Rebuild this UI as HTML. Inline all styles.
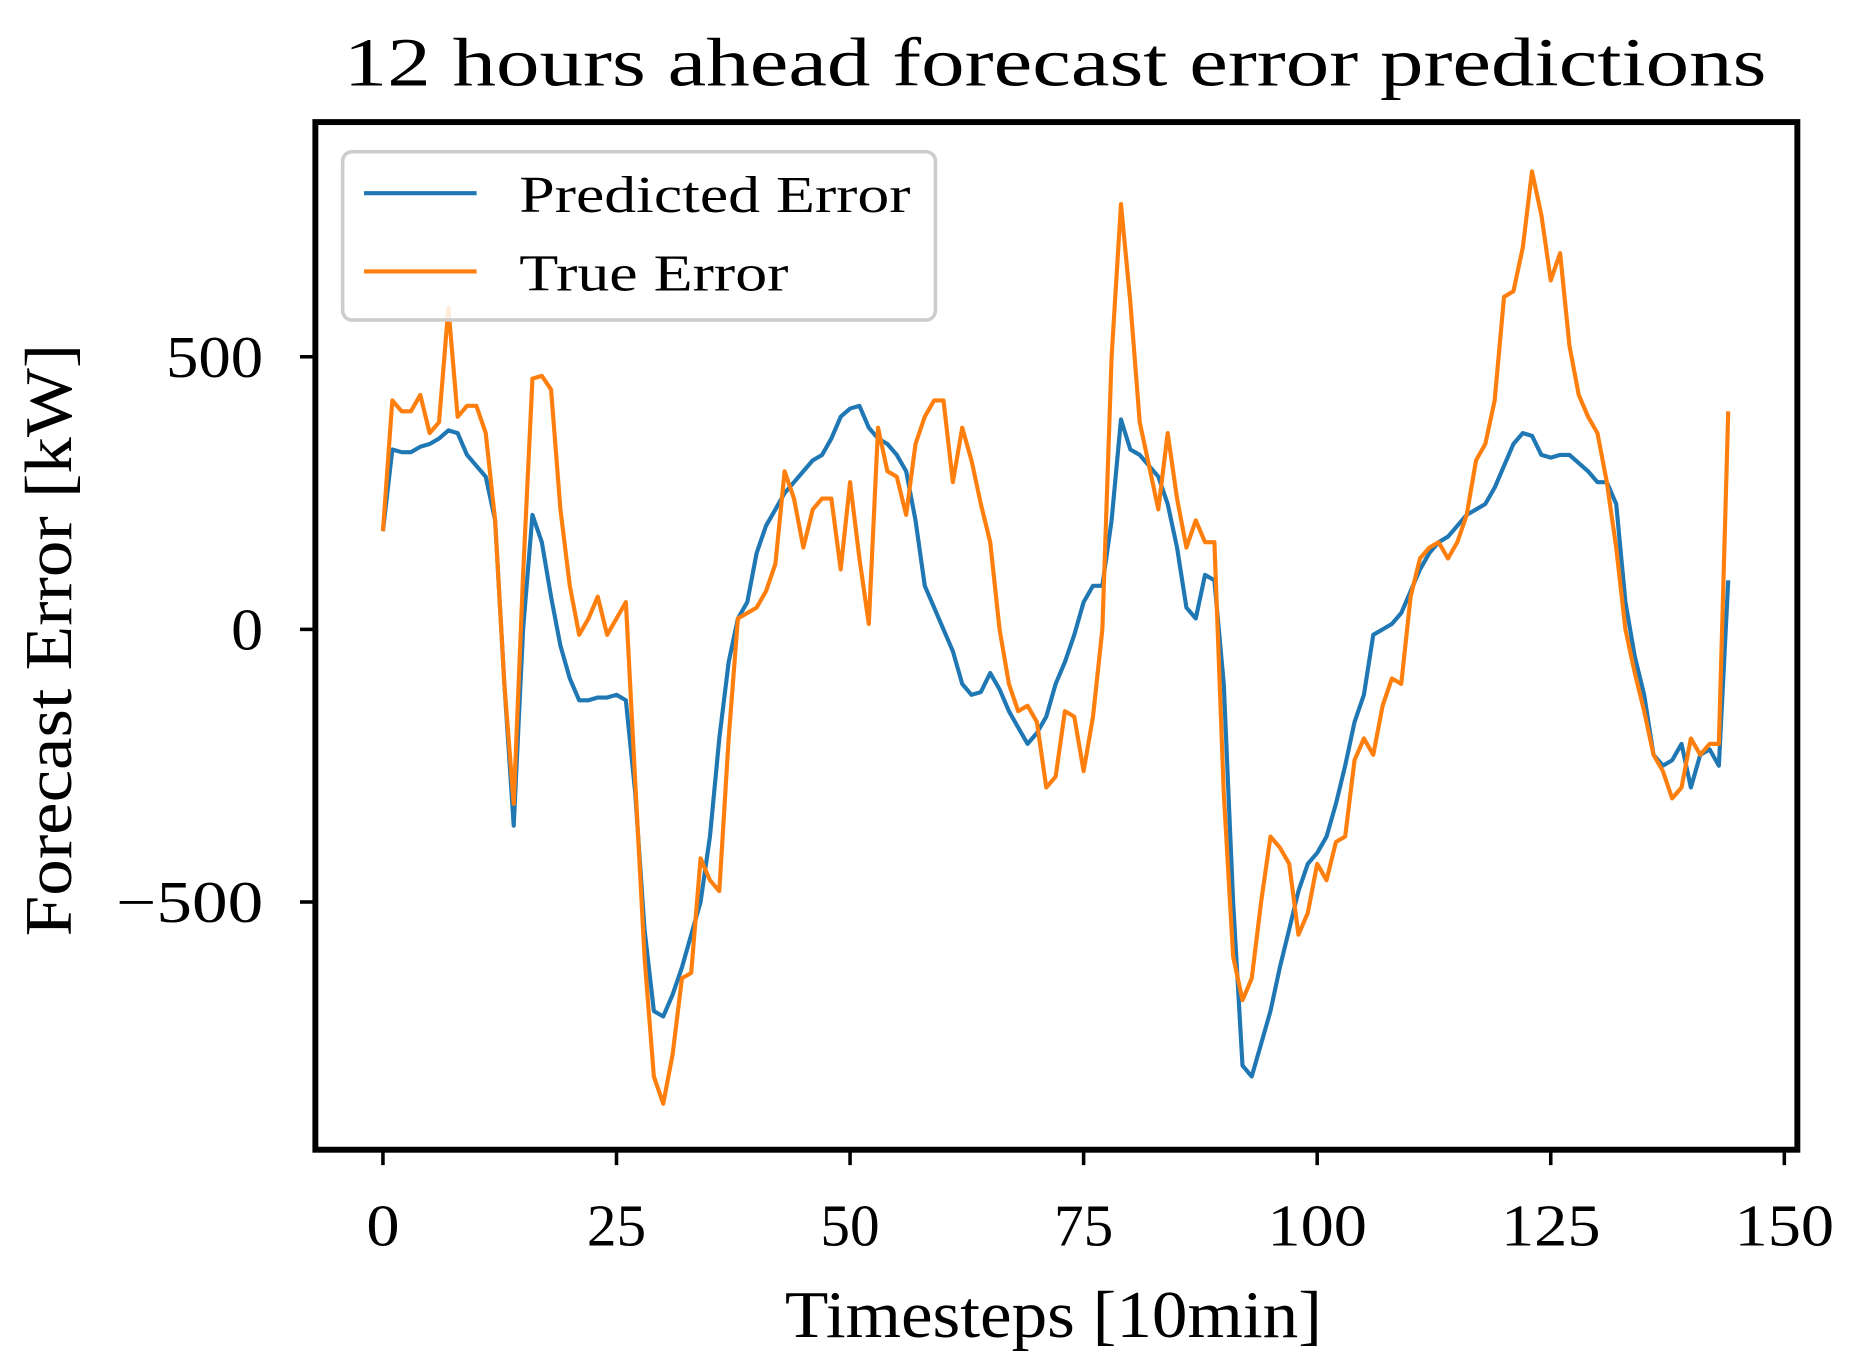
<!DOCTYPE html>
<html><head><meta charset="utf-8"><style>
html,body{margin:0;padding:0;background:#fff;}
svg{display:block;}
text{font-family:"Liberation Serif",serif;fill:#000;}
</style></head><body>
<svg id="s" width="1859" height="1369" viewBox="0 0 1568 1155" preserveAspectRatio="none" xmlns="http://www.w3.org/2000/svg">
<rect x="0" y="0" width="1568" height="1155" fill="#fff"/>
<text x="290" y="72" font-size="58" textLength="1200" lengthAdjust="spacingAndGlyphs">12 hours ahead forecast error predictions</text>
<g id="lines"></g>
<rect x="266" y="103" width="1250" height="867" fill="none" stroke="#000" stroke-width="5"/>
<g stroke="#000" stroke-width="3">
<line x1="323" y1="970" x2="323" y2="983"/><line x1="520" y1="970" x2="520" y2="983"/><line x1="717" y1="970" x2="717" y2="983"/><line x1="914" y1="970" x2="914" y2="983"/><line x1="1111" y1="970" x2="1111" y2="983"/><line x1="1308" y1="970" x2="1308" y2="983"/><line x1="1505" y1="970" x2="1505" y2="983"/>
<line x1="253" y1="301" x2="266" y2="301"/><line x1="253" y1="531" x2="266" y2="531"/><line x1="253" y1="761" x2="266" y2="761"/>
</g>
<g font-size="50">
<text x="309" y="1051" textLength="28" lengthAdjust="spacingAndGlyphs">0</text>
<text x="495" y="1051" textLength="50" lengthAdjust="spacingAndGlyphs">25</text>
<text x="692" y="1051" textLength="50" lengthAdjust="spacingAndGlyphs">50</text>
<text x="889" y="1051" textLength="50" lengthAdjust="spacingAndGlyphs">75</text>
<text x="1069" y="1051" textLength="84" lengthAdjust="spacingAndGlyphs">100</text>
<text x="1266" y="1051" textLength="84" lengthAdjust="spacingAndGlyphs">125</text>
<text x="1463" y="1051" textLength="84" lengthAdjust="spacingAndGlyphs">150</text>
</g>
<g font-size="50">
<text x="140" y="318" textLength="82" lengthAdjust="spacingAndGlyphs">500</text>
<text x="195" y="548" textLength="27" lengthAdjust="spacingAndGlyphs">0</text>
<text x="98" y="778" textLength="124" lengthAdjust="spacingAndGlyphs">−500</text>
</g>
<text x="662" y="1128" font-size="56" textLength="453" lengthAdjust="spacingAndGlyphs">Timesteps [10min]</text>
<text transform="translate(60,790) rotate(-90)" font-size="56" textLength="500" lengthAdjust="spacingAndGlyphs">Forecast Error [kW]</text>
<rect x="289" y="128" width="500" height="142" rx="8" fill="#fff" fill-opacity="0.85" stroke="#ccc" stroke-width="3"/>
<line x1="307" y1="163" x2="402" y2="163" stroke="#1f77b4" stroke-width="3.5"/>
<line x1="307" y1="229" x2="402" y2="229" stroke="#ff7f0e" stroke-width="3.5"/>
<text x="438" y="179" font-size="44" textLength="330" lengthAdjust="spacingAndGlyphs">Predicted Error</text>
<text x="438" y="245" font-size="44" textLength="227" lengthAdjust="spacingAndGlyphs">True Error</text>
</svg>
<script>
var b=[180,330,325,325,335,340,350,365,360,320,300,280,200,-100,-360,0,210,160,60,-30,-90,-130,-130,-125,-125,-120,-130,-300,-550,-700,-710,-670,-620,-560,-500,-380,-200,-60,20,50,140,190,220,250,270,290,310,320,350,390,405,410,370,350,340,320,290,200,80,40,0,-40,-100,-120,-115,-80,-110,-150,-180,-210,-190,-160,-100,-60,-10,50,80,80,200,385,330,320,300,280,230,150,40,20,100,90,-100,-500,-800,-820,-760,-700,-620,-550,-480,-430,-410,-380,-320,-250,-170,-120,-10,0,10,30,70,110,140,160,170,190,210,220,230,260,300,340,360,355,320,315,320,320,305,290,270,270,230,50,-50,-120,-230,-250,-240,-210,-290,-230,-220,-250,90];
var o=[180,420,400,400,430,360,380,590,390,410,410,360,200,-100,-320,100,460,465,440,220,80,-10,20,60,-10,20,50,-280,-600,-820,-870,-780,-640,-630,-420,-460,-480,-200,20,30,40,70,120,290,240,150,220,240,240,110,270,130,10,370,290,280,210,340,390,420,420,270,370,310,230,160,0,-100,-150,-140,-170,-290,-270,-150,-160,-260,-160,0,500,780,600,380,300,220,360,240,150,200,160,160,-300,-600,-680,-640,-500,-380,-400,-430,-560,-520,-430,-460,-390,-380,-240,-200,-230,-140,-90,-100,60,130,150,160,130,160,210,310,340,420,610,620,700,840,760,640,690,520,430,390,360,270,150,0,-80,-150,-230,-260,-310,-290,-200,-230,-210,-210,400];
function pts(a){return a.map(function(v,i){return (323+i*7.88).toFixed(1)+","+(531-v*0.46).toFixed(1)}).join(" ");}
var g=document.getElementById("lines");
g.innerHTML='<polyline points="'+pts(b)+'" fill="none" stroke="#1f77b4" stroke-width="3.5" stroke-linejoin="round"/><polyline points="'+pts(o)+'" fill="none" stroke="#ff7f0e" stroke-width="3.5" stroke-linejoin="round"/>';
</script>
</body></html>
